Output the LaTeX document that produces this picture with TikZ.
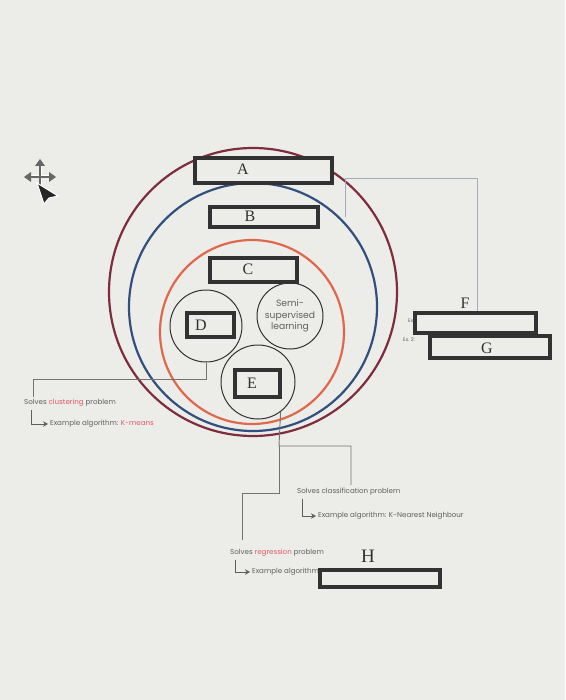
\documentclass[tikz,border=0pt]{standalone}
\usepackage{fontspec}
\newfontfamily\notefont{Poppins}
\newfontfamily\labfont{Liberation Serif}
\usetikzlibrary{arrows.meta}
\definecolor{bg}{RGB}{236,236,233}
\definecolor{maroonc}{RGB}{125,45,60}
\definecolor{navyc}{RGB}{50,80,125}
\definecolor{coralc}{RGB}{225,105,75}
\definecolor{ink}{RGB}{50,50,50}
\definecolor{txt}{RGB}{95,95,95}
\definecolor{hl}{RGB}{225,90,100}
\definecolor{wire}{RGB}{115,115,115}
\definecolor{wireb}{RGB}{165,172,185}
\tikzset{
 ring/.style={circle, draw, line width=2.2pt, inner sep=0pt},
 sub/.style={circle, draw=ink, line width=1pt, inner sep=0pt},
 box/.style={draw=ink, line width=3.4pt, fill=bg, inner sep=0pt},
 lab/.style={font=\labfont\fontsize{16}{16}\selectfont, text=ink, inner sep=0pt},
 note/.style={font=\notefont\fontsize{7.1}{8}\selectfont, text=txt, inner sep=0pt, anchor=west},
 tiny/.style={font=\notefont\fontsize{5}{5}\selectfont, text=txt, inner sep=0pt, anchor=west},
 wireline/.style={draw=wire, line width=0.9pt},
 hookarrow/.style={draw=txt, line width=0.9pt, -{Stealth[length=5pt,width=5.5pt]}},
}
\begin{document}
\begin{tikzpicture}[x=1pt,y=-1pt]
\fill[bg] (0,0) rectangle (565,700);
\useasboundingbox (0,0) rectangle (565,700);

% cursor
\draw[white, line width=3pt] (40,163) -- (40,188) (27,177) -- (53,177);
\draw[gray!80!black, line width=1.2pt] (40,165) -- (40,188) (30,177) -- (50,177);
\fill[gray!80!black] (40,159) -- (45,166) -- (35,166) -- cycle;
\fill[gray!80!black] (24,177) -- (31,172) -- (31,182) -- cycle;
\fill[gray!80!black] (56,177) -- (49,172) -- (49,182) -- cycle;
\filldraw[fill=black!85, draw=white, line width=1pt] (37,183) -- (58,196) -- (49,198) -- (44,204) -- cycle;

% rings
\node[ring, draw=maroonc, minimum size=288pt] (outer) at (253,292) {};
\node[ring, draw=navyc, minimum size=248pt] (mid) at (253,307) {};
\node[ring, draw=coralc, minimum size=184pt] (inner) at (252,332) {};

% sub circles
\node[sub, minimum size=72pt] (Dc) at (206,326) {};
\node[sub, minimum size=66pt, align=center, text=txt,
      font=\notefont\fontsize{9.2}{11.5}\selectfont] (Sc) at (290,316) {Semi-\\supervised\\learning};
\node[sub, minimum size=74pt] (Ec) at (258,382) {};

% connector A -> F
\coordinate (a1) at (345,217);
\coordinate (a2) at (477,179);
\draw[draw=wireb, line width=1pt] (a1) |- (a2) -- (a2 |- 475,313);

% connector D -> clustering
\coordinate (d1) at (33,379);
\coordinate (d2) at (33,397);
\draw[wireline] (Dc.south) |- (d1) -- (d2);

% connectors E -> classification / regression
\coordinate (e1) at (279,446);
\coordinate (e2) at (351,485);
\coordinate (e3) at (242,493);
\coordinate (e4) at (242,540);
\draw[wireline] (Ec.-53) -- (e1) -| (e2);
\draw[wireline] (e1) |- (e3) -- (e4);

% notes
\node[note] (t1) at (24,403) {Solves \textcolor{hl}{clustering} problem};
\node[note] (x1) at (50,424) {Example algorithm: \textcolor{hl}{K-means}};
\draw[hookarrow] ([xshift=7pt,yshift=-3pt]t1.south west) |- ([xshift=-2pt]x1.west);

\node[note] (t2) at (297,492) {Solves classification problem};
\node[note] (x2) at (318,516) {Example algorithm: K-Nearest Neighbour};
\draw[hookarrow] ([xshift=5pt,yshift=-3pt]t2.south west) |- ([xshift=-2pt]x2.west);

\node[note] (t3) at (230,553) {Solves \textcolor{hl}{regression} problem};
\node[note] (x3) at (252,572) {Example algorithm:};
\draw[hookarrow] ([xshift=5pt,yshift=-3pt]t3.south west) |- ([xshift=-2pt]x3.west);

\node[tiny] (ex1) at (408,321) {Ex. 1:};
\node[tiny] (ex2) at (403,340) {Ex. 2:};

% boxes
\node[box, minimum width=137pt, minimum height=25pt] (Ab) at (263.5,170.5) {};
\node[box, minimum width=108pt, minimum height=20pt] (Bb) at (264,217) {};
\node[box, minimum width=87pt, minimum height=24pt] (Cb) at (253.5,270) {};
\node[box, minimum width=47pt, minimum height=24pt] (Db) at (210.5,325) {};
\node[box, minimum width=45pt, minimum height=27pt] (Eb) at (257.5,383.5) {};
\node[box, minimum width=121pt, minimum height=20pt] (Fb) at (475.5,323) {};
\node[box, minimum width=120pt, minimum height=22pt] (Gb) at (490,347) {};
\node[box, minimum width=120pt, minimum height=17pt] (Hb) at (380,578.5) {};

% labels
\node[lab] (A) at (243,169) {A};
\node[lab] (B) at (250,216) {B};
\node[lab] (C) at (248,269) {C};
\node[lab] (D) at (201,325) {D};
\node[lab] (E) at (252,383) {E};
\node[lab] (F) at (465,303) {F};
\node[lab] (G) at (487,348) {G};
\node[lab, font=\labfont\fontsize{19}{19}\selectfont] (H) at (368,556) {H};
\end{tikzpicture}
\end{document}
